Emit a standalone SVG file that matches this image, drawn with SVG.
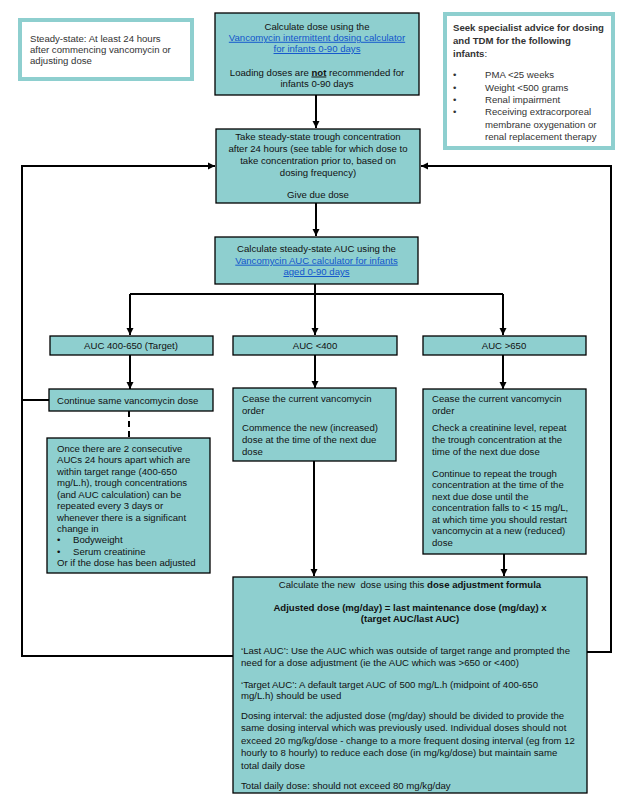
<svg xmlns="http://www.w3.org/2000/svg" width="632" height="801" viewBox="0 0 632 801">
<defs>
<marker id="ah" markerWidth="8" markerHeight="8" refX="7" refY="4" orient="auto" markerUnits="userSpaceOnUse">
<path d="M0,0.5 L7,4 L0,7.5 Z" fill="#000"/>
</marker>
<style>
text{font-family:"Liberation Sans",Arial,sans-serif;font-size:9.6px;fill:#111;stroke:none}
.c{text-anchor:middle}
.b{font-weight:bold}
.box{fill:#8ECFCF;stroke:#000;stroke-width:1.3}
.info{fill:#fff;stroke:#8ECFCF;stroke-width:4}
.note text{fill:#333}
.lnk{fill:#1155CC;text-decoration:underline}
.con{fill:none;stroke:#000;stroke-width:2}
</style>
</defs>
<rect width="632" height="801" fill="#fff"/>

<g id="connectors">
<path class="con" d="M316 95 V128" marker-end="url(#ah)"/>
<path class="con" d="M316 203 V236" marker-end="url(#ah)"/>
<path class="con" d="M315 284 V335" marker-end="url(#ah)"/>
<path class="con" d="M130 294 H503"/>
<path class="con" d="M130 294 V335" marker-end="url(#ah)"/>
<path class="con" d="M503 294 V335" marker-end="url(#ah)"/>
<path class="con" d="M130 355 V389" marker-end="url(#ah)"/>
<path class="con" d="M315 355 V388" marker-end="url(#ah)"/>
<path class="con" d="M503 355 V389" marker-end="url(#ah)"/>
<path class="con" d="M129 411 V438" stroke-dasharray="6 4"/>
<path class="con" d="M314 461 V576" marker-end="url(#ah)"/>
<path class="con" d="M504 543 V576" marker-end="url(#ah)"/>
<path class="con" d="M49 400 H22"/>
<path class="con" d="M233 656 H22 V166 H215" marker-end="url(#ah)"/>
<path class="con" d="M587 652 H611 V166 H421" marker-end="url(#ah)"/>
</g>

<g id="steady-state-note" class="note">
<rect class="info" x="20" y="20" width="172" height="59"/>
<text x="30" y="41.7">Steady-state: At least 24 hours</text>
<text x="30" y="52.9">after commencing vancomycin or</text>
<text x="30" y="64">adjusting dose</text>
</g>

<g id="specialist-note" class="note">
<rect class="info" x="445" y="14" width="168" height="134"/>
<text class="b" x="453" y="30.5">Seek specialist advice for dosing</text>
<text class="b" x="453" y="43.5">and TDM for the following</text>
<text class="b" x="453" y="56.5">infants<tspan font-weight="normal">:</tspan></text>
<text x="453" y="78">•</text><text x="485" y="78">PMA &lt;25 weeks</text>
<text x="453" y="90.5">•</text><text x="485" y="90.5">Weight &lt;500 grams</text>
<text x="453" y="102.5">•</text><text x="485" y="102.5">Renal impairment</text>
<text x="453" y="114.5">•</text><text x="485" y="114.5">Receiving extracorporeal</text>
<text x="485" y="127.5">membrane oxygenation or</text>
<text x="485" y="140">renal replacement therapy</text>
</g>

<g id="calc-dose">
<rect class="box" x="215" y="13" width="204" height="82"/>
<text class="c" x="317" y="29.5">Calculate dose using the</text>
<text class="c lnk" x="317" y="40.8">Vancomycin intermittent dosing calculator</text>
<text class="c lnk" x="317" y="52">for infants 0-90 days</text>
<text class="c" x="317" y="75.5">Loading doses are <tspan font-weight="bold" text-decoration="underline">not</tspan> recommended for</text>
<text class="c" x="317" y="86.8">infants 0-90 days</text>
</g>

<g id="trough">
<rect class="box" x="216" y="129" width="204" height="74"/>
<text class="c" x="318" y="140.2">Take steady-state trough concentration</text>
<text class="c" x="318" y="152.2">after 24 hours (see table for which dose to</text>
<text class="c" x="318" y="164">take concentration prior to, based on</text>
<text class="c" x="318" y="175.7">dosing frequency)</text>
<text class="c" x="318" y="198.4">Give due dose</text>
</g>

<g id="calc-auc">
<rect class="box" x="215" y="237" width="203" height="47"/>
<text class="c" x="316.5" y="252.4">Calculate steady-state AUC using the</text>
<text class="c lnk" x="316.5" y="263.7">Vancomycin AUC calculator for infants</text>
<text class="c lnk" x="316.5" y="275">aged 0-90 days</text>
</g>

<g id="auc-target">
<rect class="box" x="50" y="336" width="163" height="19"/>
<text class="c" x="131" y="349">AUC 400-650 (Target)</text>
</g>
<g id="auc-low">
<rect class="box" x="233" y="336" width="164" height="19"/>
<text class="c" x="315" y="349">AUC &lt;400</text>
</g>
<g id="auc-high">
<rect class="box" x="423" y="336" width="163" height="19"/>
<text class="c" x="504" y="349">AUC &gt;650</text>
</g>

<g id="continue">
<rect class="box" x="49" y="389" width="164" height="22"/>
<text x="57" y="403.5">Continue same vancomycin dose</text>
</g>

<g id="repeat-info">
<rect class="box" x="47" y="438" width="163" height="135"/>
<text x="57" y="451.5">Once there are 2 consecutive</text>
<text x="57" y="463">AUCs 24 hours apart which are</text>
<text x="57" y="474.5">within target range (400-650</text>
<text x="57" y="486">mg/L.h), trough concentrations</text>
<text x="57" y="497.5">(and AUC calculation) can be</text>
<text x="57" y="509">repeated every 3 days or</text>
<text x="57" y="520.5">whenever there is a significant</text>
<text x="57" y="532">change in</text>
<text x="57" y="543">•</text><text x="73" y="543">Bodyweight</text>
<text x="57" y="554.5">•</text><text x="73" y="554.5">Serum creatinine</text>
<text x="57" y="566">Or if the dose has been adjusted</text>
</g>

<g id="cease-increase">
<rect class="box" x="233" y="388" width="163" height="73"/>
<text x="242" y="401.5">Cease the current vancomycin</text>
<text x="242" y="414">order</text>
<text x="242" y="431">Commence the new (increased)</text>
<text x="242" y="443">dose at the time of the next due</text>
<text x="242" y="454.5">dose</text>
</g>

<g id="cease-reduce">
<rect class="box" x="423" y="389" width="163" height="165"/>
<text x="432" y="401.5">Cease the current vancomycin</text>
<text x="432" y="414">order</text>
<text x="432" y="431">Check a creatinine level, repeat</text>
<text x="432" y="443">the trough concentration at the</text>
<text x="432" y="454.5">time of the next due dose</text>
<text x="432" y="476.5">Continue to repeat the trough</text>
<text x="432" y="488">concentration at the time of the</text>
<text x="432" y="499.5">next due dose until the</text>
<text x="432" y="511">concentration falls to &lt; 15 mg/L,</text>
<text x="432" y="522.5">at which time you should restart</text>
<text x="432" y="534">vancomycin at a new (reduced)</text>
<text x="432" y="545.5">dose</text>
</g>

<g id="dose-adjust">
<rect class="box" x="233" y="577" width="354" height="216"/>
<text class="c" x="410" y="587.5" xml:space="preserve">Calculate the new  dose using this <tspan font-weight="bold">dose adjustment formula</tspan></text>
<text class="c b" x="410" y="610.5">Adjusted dose (mg/day) = last maintenance dose (mg/da<tspan text-decoration="underline">y</tspan>) x</text>
<text class="c b" x="410" y="621.5">(target AUC/last AUC)</text>
<text x="241" y="653.5">‘Last AUC’: Use the AUC which was outside of target range and prompted the</text>
<text x="241" y="666">need for a dose adjustment (ie the AUC which was &gt;650 or &lt;400)</text>
<text x="241" y="687.5">‘Target AUC’: A default target AUC of 500 mg/L.h (midpoint of 400-650</text>
<text x="241" y="699">mg/L.h) should be used</text>
<text x="241" y="718.5">Dosing interval: the adjusted dose (mg/day) should be divided to provide the</text>
<text x="241" y="731">same dosing interval which was previously used. Individual doses should not</text>
<text x="241" y="743.5">exceed 20 mg/kg/dose - change to a more frequent dosing interval (eg from 12</text>
<text x="241" y="756">hourly to 8 hourly) to reduce each dose (in mg/kg/dose) but maintain same</text>
<text x="241" y="768.5">total daily dose</text>
<text x="241" y="789">Total daily dose: should not exceed 80 mg/kg/day</text>
</g>
</svg>
